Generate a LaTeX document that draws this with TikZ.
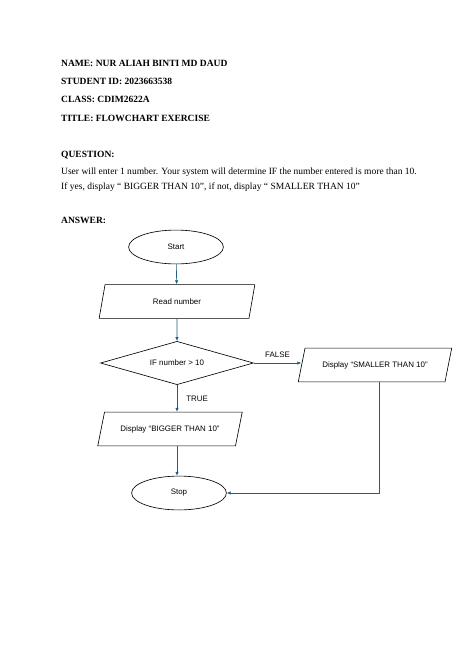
\documentclass[tikz,border=0pt]{standalone}
\usepackage{fontspec}
\setmainfont{Liberation Serif}
\newfontfamily\chartfont{Liberation Sans}
\usepackage{tikz}
\definecolor{arrow-blue}{RGB}{30,95,128}
\usetikzlibrary{shapes.geometric}
\usetikzlibrary{arrows.meta}
\usetikzlibrary{positioning}

\begin{document}
\begin{tikzpicture}[x=0.04431cm, y=-0.04431cm,
                      font=\chartfont\fontsize{10}{12}\selectfont]
  \tikzstyle{terminal} = [ellipse, draw=black, line width=0.8pt, minimum width=4.2cm, minimum height=1.5cm]
  \tikzstyle{io} = [trapezium, trapezium left angle=62, trapezium right angle=118, trapezium stretches body,
                    draw=black, line width=0.8pt, minimum height=1.5cm]
  \tikzstyle{decision} = [diamond, aspect=3.5, inner sep=1pt, draw=black, line width=0.8pt,
                          minimum width=6.78cm, minimum height=1.92cm]
  \tikzstyle{flowarrow} = [-{Latex[length=5pt, width=4.5pt]}, draw=arrow-blue, line width=0.8pt]
  \tikzstyle{header} = [anchor=base west, inner sep=0pt, font=\fontsize{12}{14}\selectfont]
  \useasboundingbox (0,0) rectangle (474,669);
% Header text
    \node[header] (name)     at (61, 66)  {\textbf{NAME: NUR ALIAH BINTI MD DAUD}};
    \node[header] (studid)   at (61, 84)  {\textbf{STUDENT ID: 2023663538}};
    \node[header] (class)    at (61, 102) {\textbf{CLASS: CDIM2622A}};
    \node[header] (title)    at (61, 121) {\textbf{TITLE: FLOWCHART EXERCISE}};
    \node[header] (question) at (61, 157) {\textbf{QUESTION:}};
    \node[header] (qline1)   at (61, 174) {User will enter 1 number. Your system will determine IF the number entered is more than 10.};
    \node[header] (qline2)   at (61, 189) {If yes, display “ BIGGER THAN 10”, if not, display “ SMALLER THAN 10”};
    \node[header] (answer)   at (61, 223) {\textbf{ANSWER:}};
% Flowchart
    \node[terminal] (start) at (176, 247) {Start};
    \node[io, minimum width=6.9cm] (read) at (177, 301.5) {Read number};
    \node[decision] (decide) at (177, 363) {IF number > 10};
    \node[io, minimum width=6.8cm] (smaller) at (375, 365) {Display “SMALLER THAN 10”};
    \node[io, minimum width=6.4cm] (bigger) at (170, 429) {Display “BIGGER THAN 10”};
    \node[terminal] (stop) at (179, 493) {Stop};
% Connectors
    \draw[flowarrow] (start) -- (read);
    \draw[flowarrow] (read) -- (decide);
    \draw[flowarrow] (decide.east) -- (decide.east -| smaller.west) node[midway, above=3pt] {FALSE};
    \draw[flowarrow] (decide.south) -- (decide.south |- bigger.north) node[midway, right=8pt] {TRUE};
    \draw[flowarrow] (decide.south |- bigger.south) -- (decide.south |- stop.north);
    \draw[flowarrow] ([xshift=5pt]smaller.south) |- (stop.east);
\end{tikzpicture}
\end{document}
